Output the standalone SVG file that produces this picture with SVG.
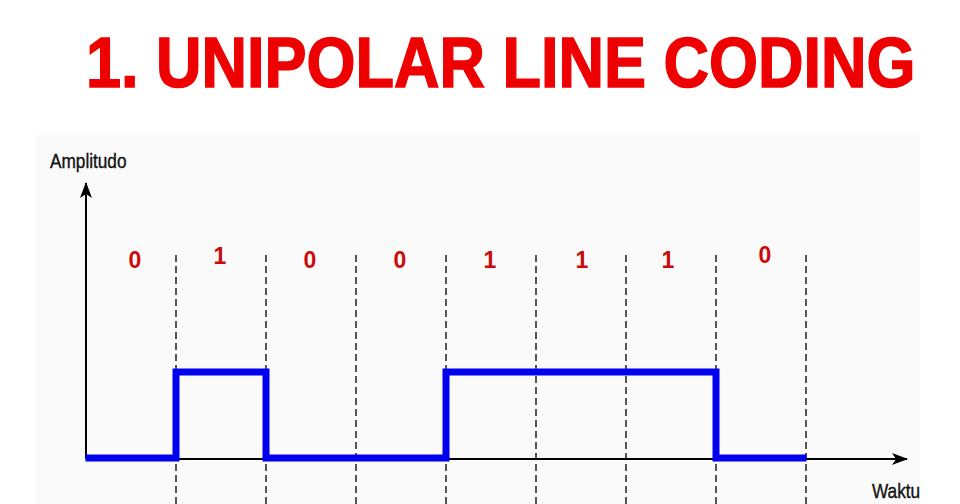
<svg xmlns="http://www.w3.org/2000/svg" width="960" height="504" viewBox="0 0 960 504">
  <style>
    .title { font-family: "Liberation Sans", Arial, sans-serif; font-weight: bold; font-size: 70px; fill: #ee0000; stroke: #ee0000; stroke-width: 1.5; }
    .bit { font-family: "Liberation Sans", Arial, sans-serif; font-weight: bold; font-size: 23px; fill: #cc0a0a; text-anchor: middle; }
    .axislabel { font-family: "Liberation Sans", Arial, sans-serif; font-size: 21px; fill: #111111; stroke: #111111; stroke-width: 0.4; }
    .grid { stroke: #555555; stroke-width: 2; stroke-dasharray: 7 4; fill: none; }
    .axis { stroke: #000000; stroke-width: 2; fill: none; }
    .signal { stroke: #0000ee; stroke-width: 7; fill: none; stroke-linejoin: miter; stroke-linecap: square; }
  </style>
  <defs>
    <marker id="arrow" markerWidth="16" markerHeight="12" refX="15" refY="6" orient="auto" markerUnits="userSpaceOnUse">
      <path d="M0,0 L16,6 L0,12 L4,6 Z" fill="#000000"/>
    </marker>
  </defs>
  <rect x="0" y="0" width="960" height="504" fill="#ffffff"/>
  <rect x="35" y="135" width="885" height="369" fill="#fafafa"/>

  <g id="title">
    <text class="title" transform="translate(86,87) scale(0.9,1)" x="0" y="0">1. UNIPOLAR LINE CODING</text>
  </g>

  <g id="grid">
    <line class="grid" x1="176" y1="255" x2="176" y2="504"/>
    <line class="grid" x1="266" y1="255" x2="266" y2="504"/>
    <line class="grid" x1="356" y1="255" x2="356" y2="504"/>
    <line class="grid" x1="446" y1="255" x2="446" y2="504"/>
    <line class="grid" x1="536" y1="255" x2="536" y2="504"/>
    <line class="grid" x1="626" y1="255" x2="626" y2="504"/>
    <line class="grid" x1="716" y1="255" x2="716" y2="504"/>
    <line class="grid" x1="806" y1="255" x2="806" y2="504"/>
  </g>

  <g id="axes">
    <line class="axis" x1="86" y1="459" x2="86" y2="183" marker-end="url(#arrow)"/>
    <line class="axis" x1="86" y1="459" x2="907" y2="459" marker-end="url(#arrow)"/>
  </g>

  <g id="axis-labels">
    <text class="axislabel" transform="translate(50,168) scale(0.82,1)" x="0" y="0">Amplitudo</text>
    <text class="axislabel" transform="translate(872,498) scale(0.82,1)" x="0" y="0">Waktu</text>
  </g>

  <g id="bits">
    <text class="bit" x="135" y="268">0</text>
    <text class="bit" x="220" y="264">1</text>
    <text class="bit" x="310" y="268">0</text>
    <text class="bit" x="400" y="268">0</text>
    <text class="bit" x="490" y="268">1</text>
    <text class="bit" x="582" y="268">1</text>
    <text class="bit" x="668" y="268">1</text>
    <text class="bit" x="765" y="263">0</text>
  </g>

  <g id="signal">
    <polyline class="signal" points="89,458 176,458 176,372 266,372 266,458 446,458 446,372 716,372 716,458 803,458"/>
  </g>
</svg>
